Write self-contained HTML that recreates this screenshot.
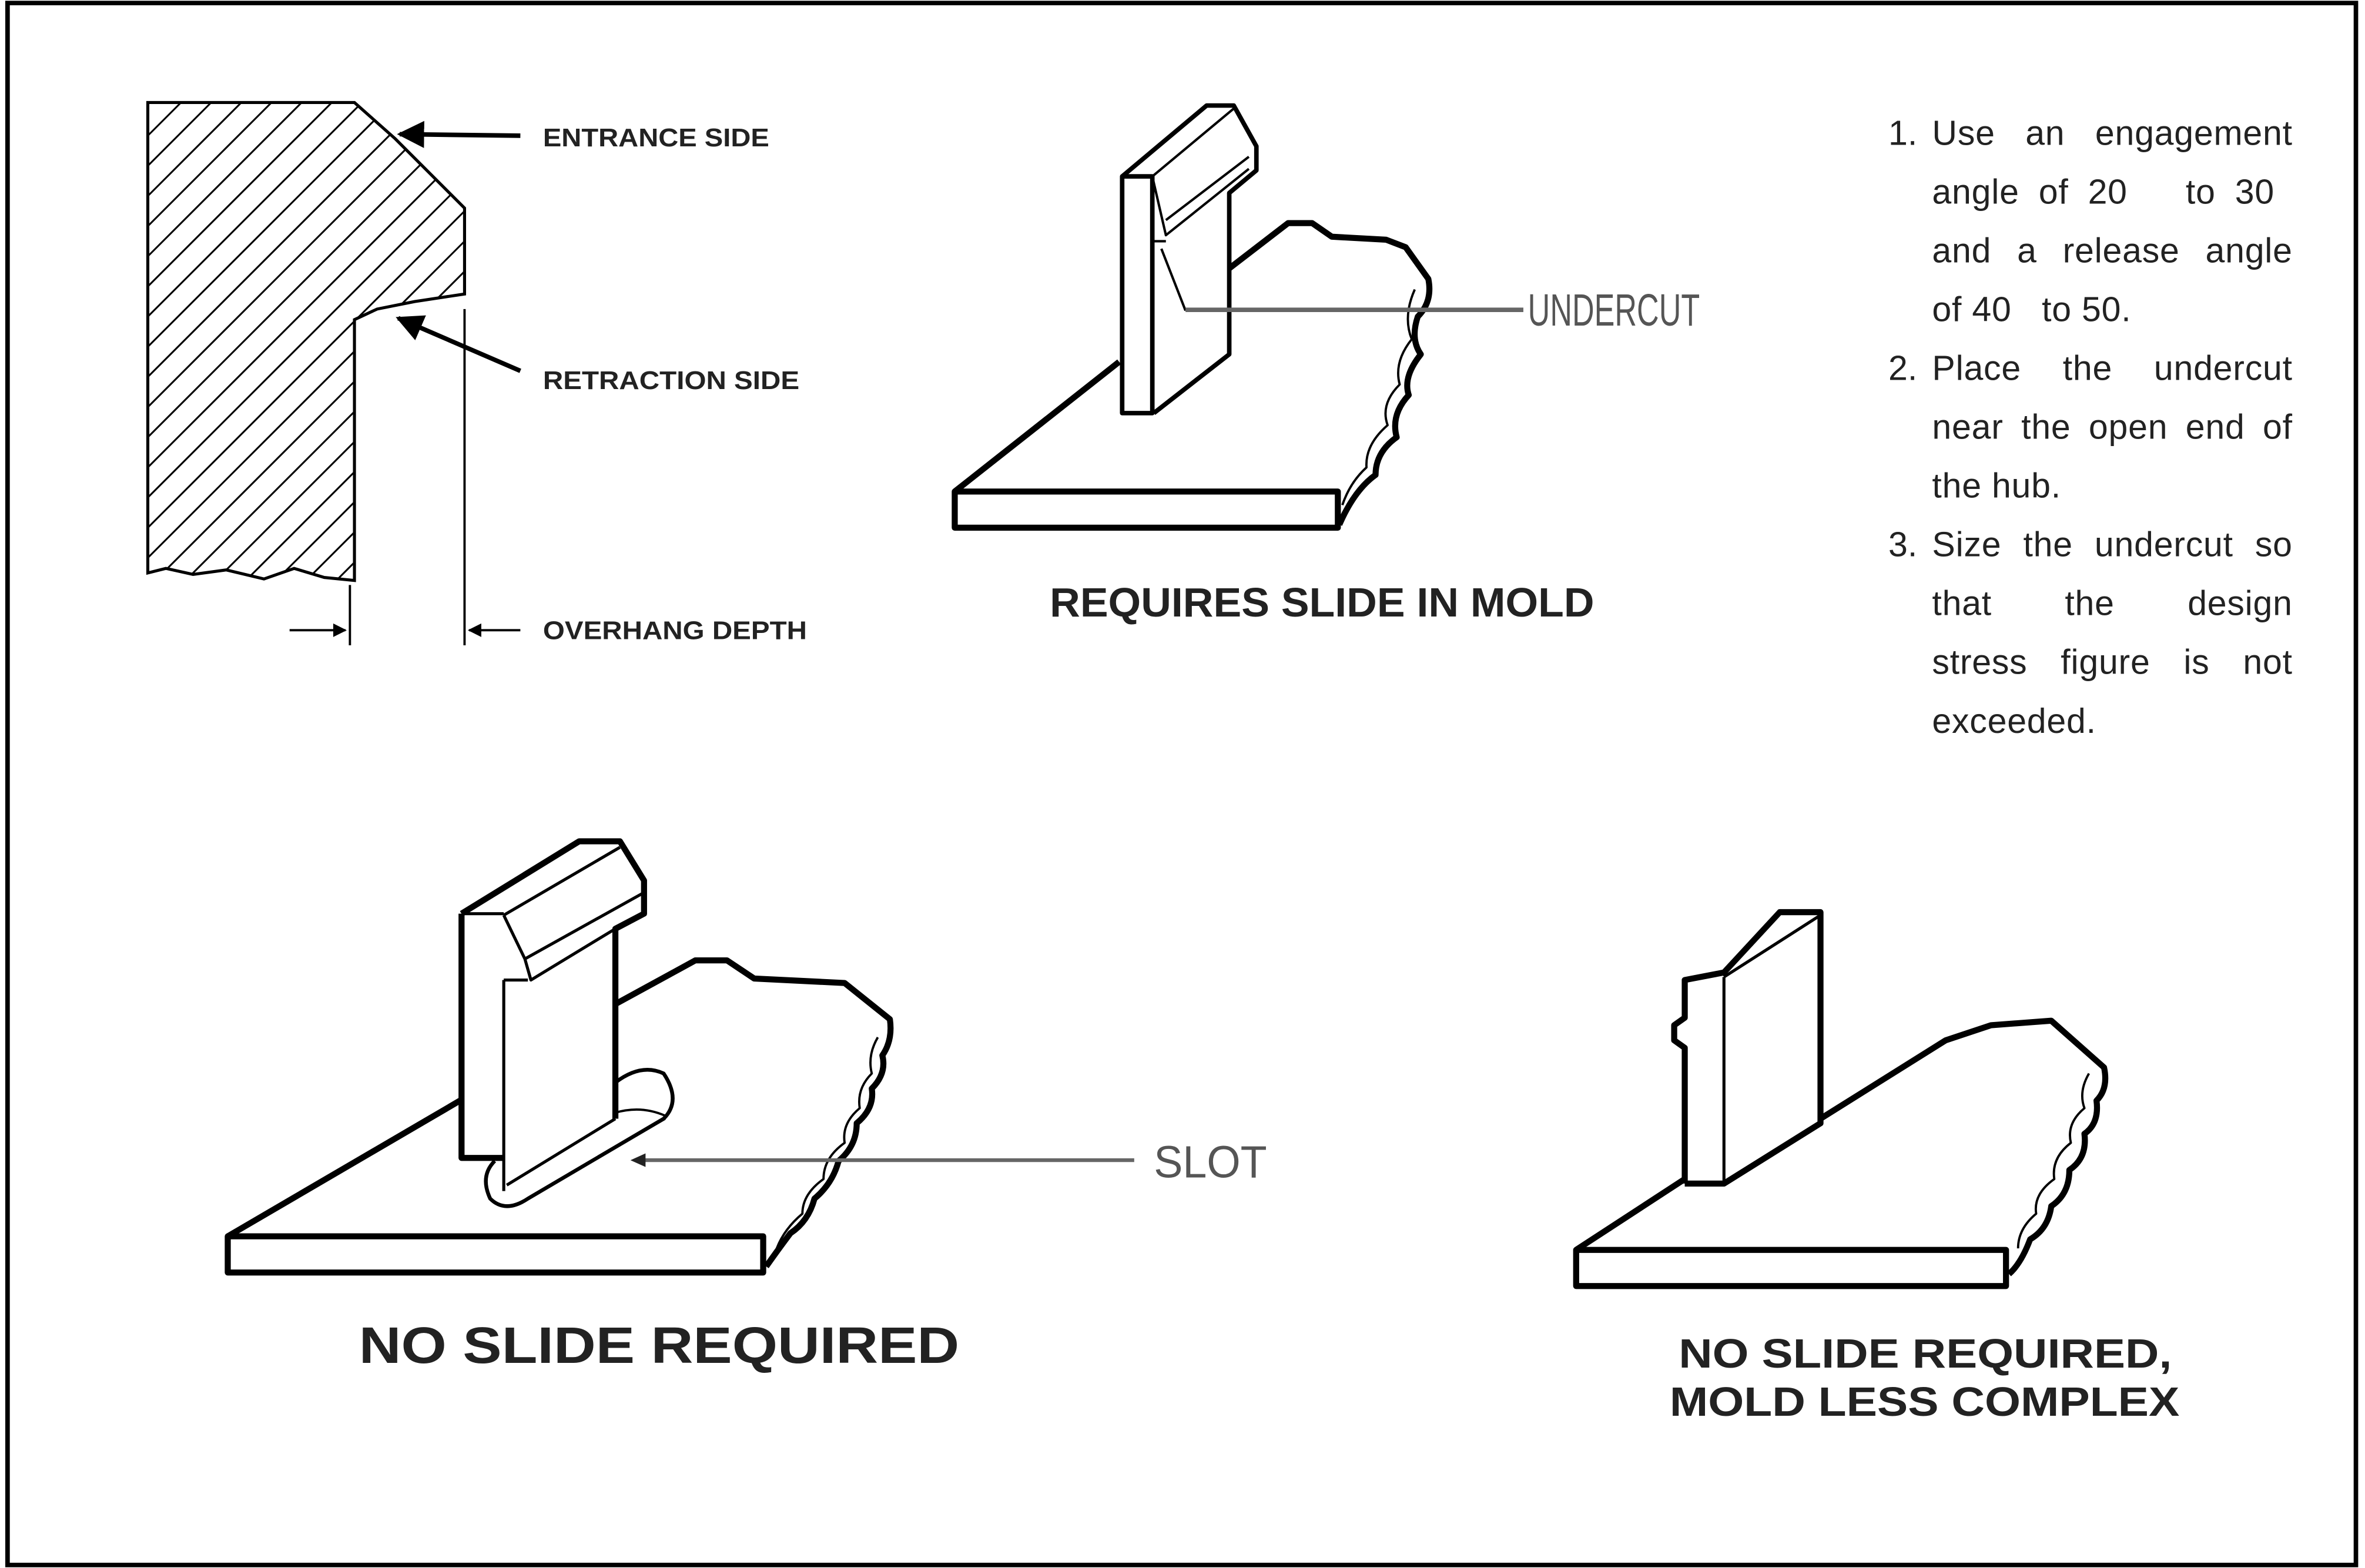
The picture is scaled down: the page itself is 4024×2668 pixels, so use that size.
<!DOCTYPE html>
<html><head><meta charset="utf-8"><style>
html,body{margin:0;padding:0;background:#fff;width:4024px;height:2668px;overflow:hidden}
#w{position:absolute;left:0;top:0;width:1568px;height:1040px;transform:scale(2.5663,2.5654);transform-origin:0 0}
.l{position:absolute;left:1281px;width:239px;font:23px/39px "Liberation Sans",sans-serif;letter-spacing:0.3px;color:#222;text-align:justify;text-align-last:justify;white-space:nowrap}
.n{text-align-last:left}
.num{position:absolute;left:1252px;font:23px/39px "Liberation Sans",sans-serif;color:#222}
</style></head><body><div id="w">
<svg width="1568" height="1040" viewBox="0 0 1568 1040" style="position:absolute;left:0;top:0">
<defs>
<clipPath id="cp"><path d="M98,68 L235,68 L262,92 L308,138 L308,195 L275,200 L250,205 L235,212 L235,385 L215,383 L195,377 L175,384 L150,378 L128,381 L110,377 L98,380 Z"/></clipPath>
<marker id="ah" viewBox="0 0 10 10" refX="9" refY="5" markerWidth="6" markerHeight="6" orient="auto"><path d="M0,0 L10,5 L0,10 Z" fill="#000"/></marker>
</defs>
<rect x="5" y="2" width="1557" height="1036" fill="none" stroke="#000" stroke-width="3"/>
<g clip-path="url(#cp)" stroke="#000" stroke-width="1.2" fill="none">
<path d="M98,90 L120,68 M98,110 L140,68 M98,130 L160,68 M98,150 L180,68 M98,170 L200,68 M98,190 L220,68 M98,210 L240,68 M98,230 L260,68 M98,250 L280,68 M98,270 L300,68 M98,290 L320,68 M98,310 L340,68 M98,330 L360,68 M98,350 L380,68 M98,370 L400,68 M98,390 L420,68 M110,398 L440,68 M130,398 L460,68 M150,398 L480,68 M170,398 L500,68 M190,398 L520,68 M210,398 L540,68 M230,398 L560,68"/>
</g>
<path d="M98,68 L235,68 L262,92 L308,138 L308,195 L275,200 L250,205 L235,212 L235,385 L215,383 L195,377 L175,384 L150,378 L128,381 L110,377 L98,380 Z" fill="none" stroke="#000" stroke-width="2"/>
<line x1="345" y1="90" x2="265" y2="89" stroke="#000" stroke-width="3" marker-end="url(#ah)"/>
<line x1="345" y1="246" x2="264" y2="211" stroke="#000" stroke-width="3" marker-end="url(#ah)"/>
<line x1="232" y1="388" x2="232" y2="428" stroke="#000" stroke-width="1.5"/>
<line x1="308" y1="205" x2="308" y2="428" stroke="#000" stroke-width="1.5"/>
<line x1="192" y1="418" x2="229" y2="418" stroke="#000" stroke-width="1.5" marker-end="url(#ah)"/>
<line x1="345" y1="418" x2="311" y2="418" stroke="#000" stroke-width="1.5" marker-end="url(#ah)"/>
<g font-family="Liberation Sans, sans-serif" font-weight="bold" font-size="17" fill="#222">
<text x="360" y="97" textLength="150" lengthAdjust="spacingAndGlyphs">ENTRANCE SIDE</text>
<text x="360" y="258" textLength="170" lengthAdjust="spacingAndGlyphs">RETRACTION SIDE</text>
<text x="360" y="424" textLength="175" lengthAdjust="spacingAndGlyphs">OVERHANG DEPTH</text>
</g>

<!-- top middle figure -->
<g fill="none" stroke="#000" stroke-linejoin="round">
<path d="M633,326 L742,240" stroke-width="4"/>
<rect x="633" y="326" width="254" height="24" stroke-width="4"/>
<path d="M815,178 L854,148 L870,148 L883,157 L919,159 L932,164 L947,185 Q950,200 940,210 Q935,225 942,235 Q930,250 934,262 Q922,275 926,290 Q912,300 912,315 Q898,325 888,348" stroke-width="4"/>
<path d="M938,192 Q930,210 936,225 Q924,240 928,255 Q915,268 920,282 Q905,295 906,310 Q895,320 890,335" stroke-width="1.5"/>
<rect x="744" y="117" width="20" height="157" stroke-width="3"/>
<path d="M744,117 L800,70 L818,70 L833,97 L833,113 L815,128 L815,235 L765,274" stroke-width="3"/>
<path d="M764,117 L818,72 M764,117 L773,156 L828,112 M773,146 L828,104 M764,160 L773,160 M770,165 L786,206 M815,128 L815,235" stroke-width="1.6"/>
</g>
<line x1="786" y1="205.5" x2="1010" y2="205.5" stroke="#666" stroke-width="3"/>
<text x="1013" y="216" font-family="Liberation Sans Narrow, Liberation Sans, sans-serif" font-size="30" fill="#555" textLength="114" lengthAdjust="spacingAndGlyphs">UNDERCUT</text>
<text x="696" y="409" font-family="Liberation Sans, sans-serif" font-weight="bold" font-size="27" fill="#222" textLength="361" lengthAdjust="spacingAndGlyphs">REQUIRES SLIDE IN MOLD</text>

<!-- bottom-left figure -->
<g fill="none" stroke="#000" stroke-linejoin="round">
<path d="M151,820 L305,730" stroke-width="4"/>
<rect x="151" y="820" width="355" height="24" stroke-width="4"/>
<path d="M408,666 L461,637 L482,637 L500,649 L560,652 L590,676 Q592,690 585,700 Q588,712 578,722 Q580,735 568,745 Q568,760 556,770 Q552,785 540,795 Q536,810 524,818 Q515,830 508,840" stroke-width="4"/>
<path d="M582,688 Q575,700 578,712 Q568,722 570,735 Q558,745 560,758 Q546,768 546,782 Q532,792 532,805 Q520,815 515,828" stroke-width="1.5"/>
<path d="M306,606 L306,768 L334,768" stroke-width="4"/>
<path d="M306,606 L384,558 L411,558 L427,584 L427,606 L408,616 L408,742" stroke-width="4"/>
<path d="M306,606 L334,606 M334,607 L411,562 M334,607 L348,636 L427,592 M348,636 L352,650 L408,616 M334,650 L350,650 M334,650 L334,790 M408,742 L336,786" stroke-width="2"/>
<path d="M408,718 Q425,705 440,712 Q452,730 440,742 L350,795 Q335,805 325,795 Q318,780 328,770" stroke-width="2.5"/>
<path d="M408,738 Q425,733 441,740 M441,742 L345,798" stroke-width="1.5"/>
</g>
<line x1="425" y1="769.5" x2="752" y2="769.5" stroke="#666" stroke-width="2.5"/>
<path d="M418,769.5 L428,765 L428,774 Z" fill="#222"/>
<text x="765" y="781" font-family="Liberation Sans Narrow, Liberation Sans, sans-serif" font-size="30" fill="#555" textLength="75" lengthAdjust="spacingAndGlyphs">SLOT</text>
<text x="238" y="904" font-family="Liberation Sans, sans-serif" font-weight="bold" font-size="34" fill="#222" textLength="398" lengthAdjust="spacingAndGlyphs">NO SLIDE REQUIRED</text>

<!-- bottom-right figure -->
<g fill="none" stroke="#000" stroke-linejoin="round">
<path d="M1045,829 L1117,782" stroke-width="4"/>
<rect x="1045" y="829" width="285" height="24" stroke-width="4"/>
<path d="M1207,742 L1290,690 L1320,680 L1360,677 L1395,708 Q1398,722 1390,730 Q1392,745 1382,752 Q1384,768 1372,776 Q1372,792 1360,800 Q1358,815 1346,822 Q1340,838 1332,845" stroke-width="4"/>
<path d="M1385,712 Q1378,724 1382,735 Q1370,745 1373,758 Q1360,768 1362,782 Q1348,792 1350,805 Q1338,815 1338,828" stroke-width="1.5"/>
<path d="M1117,785 L1117,695 L1110,690 L1110,680 L1117,675 L1117,650 L1143,645 L1180,605 L1207,605 L1207,745 L1143,785 L1117,785" stroke-width="4"/>
<path d="M1143,648 L1143,785 M1143,648 L1207,607" stroke-width="2"/>
</g>
<text x="1113" y="907" font-family="Liberation Sans, sans-serif" font-weight="bold" font-size="27" fill="#222" textLength="327" lengthAdjust="spacingAndGlyphs">NO SLIDE REQUIRED,</text>
<text x="1107" y="939" font-family="Liberation Sans, sans-serif" font-weight="bold" font-size="27" fill="#222" textLength="338" lengthAdjust="spacingAndGlyphs">MOLD LESS COMPLEX</text>
</svg>
<div class="num" style="top:69px">1.</div>
<div class="l" style="top:69px">Use an engagement</div>
<div class="l" style="top:108px;width:227px">angle of 20 &nbsp; to 30</div>
<div class="l" style="top:147px">and a release angle</div>
<div class="l n" style="top:186px">of 40 &nbsp; to 50.</div>
<div class="num" style="top:225px">2.</div>
<div class="l" style="top:225px">Place the undercut</div>
<div class="l" style="top:264px">near the open end of</div>
<div class="l n" style="top:303px">the hub.</div>
<div class="num" style="top:342px">3.</div>
<div class="l" style="top:342px">Size the undercut so</div>
<div class="l" style="top:381px">that the design</div>
<div class="l" style="top:420px">stress figure is not</div>
<div class="l n" style="top:459px">exceeded.</div>
</div></body></html>
